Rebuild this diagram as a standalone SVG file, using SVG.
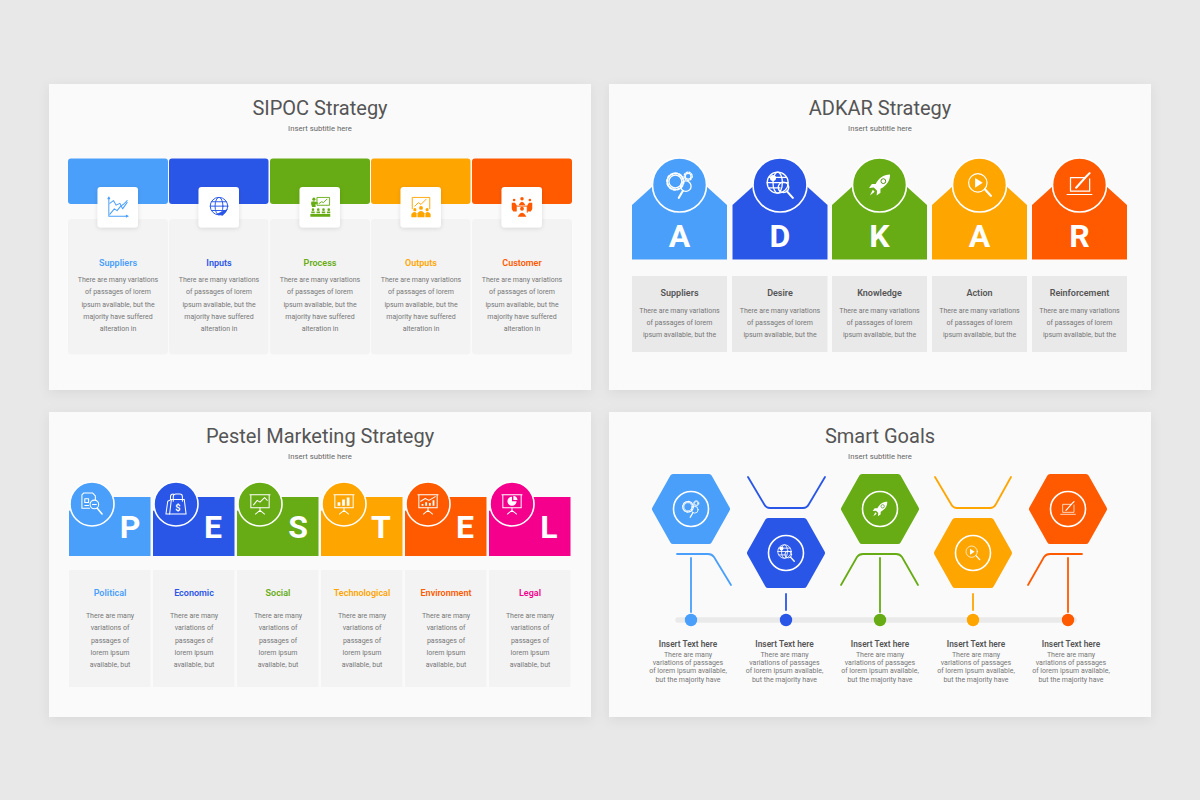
<svg xmlns="http://www.w3.org/2000/svg" width="1200" height="800" viewBox="0 0 1200 800">
<style>
text{font-family:Roboto,"Liberation Sans",sans-serif;text-anchor:middle}
.title{font-size:20px;fill:#555}
.sub{font-size:7.700px;fill:#666}
.lab{font-size:9px;font-weight:600}
.slab{font-size:8.300px;font-weight:600;fill:#555}
.body{font-size:7px;fill:#777}
.sbody{font-size:7px;fill:#777}
.big{font-size:32px;font-weight:700;fill:#fff}
.dk{fill:#555}
.f1{fill:#4a9ffa;stroke:#4a9ffa;color:#4a9ffa}
.f2{fill:#2a56e8;stroke:#2a56e8;color:#2a56e8}
.f3{fill:#67ac14;stroke:#67ac14;color:#67ac14}
.f4{fill:#ffa500;stroke:#ffa500;color:#ffa500}
.f5{fill:#ff5a00;stroke:#ff5a00;color:#ff5a00}
.f6{fill:#f5008c;stroke:#f5008c;color:#f5008c}
.t1{fill:#4a9ffa}.t2{fill:#2a56e8}.t3{fill:#67ac14}.t4{fill:#ffa500}.t5{fill:#ff5a00}.t6{fill:#f5008c}
.ns{stroke:none}
.ring{stroke:#fff;stroke-width:1.6}
.gray{fill:#f3f3f3}
.gray2{fill:#e9e9e9}
.w{color:#fff}
.hex{stroke-width:6;stroke-linejoin:round}
.hr{fill:none;stroke:#fff;stroke-width:1.6}
.lnk{fill:none;stroke-width:1.800;stroke-linecap:round;stroke-linejoin:round}
.s1{stroke:#4a9ffa}.s2{stroke:#2a56e8}.s3{stroke:#67ac14}.s4{stroke:#ffa500}.s5{stroke:#ff5a00}
.ic{fill:none;stroke:currentColor;stroke-width:1.1;stroke-linecap:round;stroke-linejoin:round}
.fc{fill:currentColor;stroke:none}
</style>
<defs>
<filter id="sh" x="-10%" y="-10%" width="120%" height="125%"><feDropShadow dx="0" dy="3" stdDeviation="6" flood-color="#000" flood-opacity=".07"/></filter>
<filter id="sh2" x="-30%" y="-30%" width="160%" height="160%"><feDropShadow dx="0" dy="1" stdDeviation="2" flood-color="#000" flood-opacity=".12"/></filter>
<path id="pent" d="M-47.5 205L0 162L47.5 205V259.5H-47.5Z"/>
<path id="pes" d="M0 511L23 497H81.5V556H0Z"/>
<path id="hexa" d="M-36 0L-18-32H18L36 0L18 32H-18Z"/>
<symbol id="i-chart" viewBox="0 0 24 24"><g class="ic"><path d="M2 1V22H23M1 3L2 1L3 3M21 21L23 22L21 23"/><path d="M3 8L7 5L10 10L14 8L17 14L22 7"/><path d="M3 20L8 14L11 16L15 11L18 9L22 5"/></g></symbol>
<symbol id="i-globe" viewBox="0 0 24 24"><g class="ic" stroke-width="1.300"><circle cx="12" cy="11" r="10"/><ellipse cx="12" cy="11" rx="4.500" ry="10"/><path d="M2 11H22M3.500 6H20.500M3.500 16H20.500"/></g><path class="fc" d="M9 20L18 16L22 14L20 18L16 22Z"/></symbol>
<symbol id="i-train" viewBox="0 0 24 24"><g class="ic" stroke-width=".9"><rect x="9" y="1" width="14" height="9"/><path d="M11 8L14 6L16 7L20 3"/></g><g class="fc"><circle cx="5" cy="3" r="1.800"/><path d="M2 6Q5 5 7 6L10 7L10 8L7 8.500V12H3Q1 9 2 6Z"/><circle cx="4" cy="15" r="1.500"/><circle cx="10" cy="15" r="1.500"/><circle cx="16" cy="15" r="1.500"/><circle cx="22" cy="15" r="1.500"/><path d="M2 17H6V19H2ZM8 17H12V19H8ZM14 17H18V19H14ZM20 17H24V19H20ZM1 20H24V23H1Z"/></g></symbol>
<symbol id="i-audience" viewBox="0 0 24 24"><g class="ic" stroke-width=".9"><path d="M2 14V1H22V14"/><path d="M5 11L9 7L12 9L18 3"/></g><g class="fc"><circle cx="12" cy="13" r="2.200"/><path d="M8 24V19Q12 14 16 19V24Z"/><circle cx="5" cy="15" r="1.800"/><path d="M1 24V20Q4 16 7 19V24Z"/><circle cx="19" cy="15" r="1.800"/><path d="M17 19Q20 16 23 20V24H17Z"/></g></symbol>
<symbol id="i-meet" viewBox="0 0 24 24"><g class="fc"><circle cx="12" cy="2.500" r="2"/><path d="M8.500 9Q12 3 15.500 9V10H8.500Z"/><circle cx="3" cy="4" r="1.500"/><circle cx="21" cy="4" r="1.500"/><path d="M0 7H4L6 10V17H2L0 14ZM24 7H20L18 10V17H22L24 14Z"/><circle cx="12" cy="14" r="2.200"/><path d="M7 23Q12 14 17 23Z"/></g><path class="ic" d="M6 11H18V18"/></symbol>
<symbol id="i-gears" viewBox="0 0 24 24"><g class="ic" stroke-width="1.300"><circle cx="8" cy="9" r="5.500"/><circle cx="8" cy="9" r="7" stroke-dasharray="2 1.600" stroke-width="1.800"/><circle cx="19" cy="4.500" r="2.500"/><circle cx="19" cy="4.500" r="3.500" stroke-dasharray="1.200 1.200"/><circle cx="17" cy="13" r="4.500"/><path d="M14.500 17L11 23" stroke-width="1.800"/></g></symbol>
<symbol id="i-gg" viewBox="0 0 24 24"><g class="ic" stroke-width=".9"><circle cx="10" cy="10" r="9"/><ellipse cx="10" cy="10" rx="4" ry="9"/><path d="M1 10H19M2.500 5.500H17.500M2.500 14.500H12"/><circle cx="15" cy="14" r="4.500" stroke-width="1.200"/><path d="M18 17.500L23 23" stroke-width="1.800"/></g><circle class="fc" cx="6" cy="6" r="2.600"/></symbol>
<symbol id="i-rocket" viewBox="0 0 24 24"><path class="fc" d="M23 1C16 1 11 5 8 11L4 11L1 15L6 14.500L9.500 18L9 23L13 20L13 16C19 13 23 8 23 1Z"/><circle cx="16" cy="8" r="2.500" fill="none" stroke="#4c8a0c" stroke-width="1"/><path class="fc" d="M5 17L7 19L2 23Z"/></symbol>
<symbol id="i-play" viewBox="0 0 24 24"><g class="ic" stroke-width="1.500"><circle cx="10" cy="10" r="8.500"/><path d="M16.500 16L22 22" stroke-width="2"/></g><path class="fc" d="M7.500 5.500L14.500 10L7.500 14.500Z"/></symbol>
<symbol id="i-laptop" viewBox="0 0 24 24"><g class="ic" stroke-width="1.200"><path d="M21 6V17H4V5H16"/><path d="M1 20H23"/><path d="M9 14L18 4L21 1" stroke-width="1.800"/></g></symbol>
<symbol id="i-doc" viewBox="0 0 24 24"><g class="ic" stroke-width="1"><path d="M2 17V3L4 1H13L16 4V8M2 17H10"/><path d="M5 7H9V11H5ZM5 14H9"/><circle cx="15" cy="13" r="4.500"/><path d="M13 13H17"/><path d="M18 17L23 23" stroke-width="1.600"/></g></symbol>
<symbol id="i-bag" viewBox="0 0 24 24"><g class="ic" stroke-width="1"><path d="M7 7H21L23 23H5Z"/><path d="M7 7L3 9L1 23H5"/><path d="M9 9V4Q9 1 12 1H16Q19 1 19 4V9M6 7V4Q6 1 9 1"/></g><text x="14" y="20" style="font-size:10px;font-weight:700;fill:currentColor">$</text></symbol>
<symbol id="i-board" viewBox="0 0 24 24"><g class="ic" stroke-width="1"><path d="M1 2H23M2 2V16H22V2"/><path d="M12 16V19M12 19L7 23M12 19L17 23"/><path d="M5 13L9 8L12 10L17 5L20 8"/></g></symbol>
<symbol id="i-bars" viewBox="0 0 24 24"><g class="ic" stroke-width="1"><path d="M1 2H23M2 2V16H22V2"/><path d="M12 16V19M12 19L7 23M12 19L17 23"/></g><path class="fc" d="M5 10H8V14H5ZM10 7H13V14H10ZM15 5H18V14H15Z"/></symbol>
<symbol id="i-mix" viewBox="0 0 24 24"><g class="ic" stroke-width="1"><path d="M1 2H23M2 2V16H22V2"/><path d="M12 16V19M12 19L7 23M12 19L17 23"/><path d="M4 9L9 6L13 8L20 4"/></g><path class="fc" d="M5 12H7V14H5ZM9 10H11V14H9ZM13 11H15V14H13ZM17 8H19V14H17Z"/></symbol>
<symbol id="i-pie" viewBox="0 0 24 24"><g class="ic" stroke-width="1"><path d="M1 2H23M2 2V16H22V2"/><path d="M12 16V19M12 19L7 23M12 19L17 23"/></g><path class="fc" d="M12 4A5 5 0 1 0 17 9H12ZM13.500 3V7.500H18A5 5 0 0 0 13.500 3Z"/></symbol>
</defs>
<rect width="1200" height="800" fill="#e9e8e9"/>
<g id="panels" fill="#fafafa" filter="url(#sh)">
<rect x="49" y="84" width="542" height="306"/>
<rect x="609" y="84" width="542" height="306"/>
<rect x="49" y="412" width="542" height="305"/>
<rect x="609" y="412" width="542" height="305"/>
</g>

<g id="sipoc">
<text class="title" x="320" y="115">SIPOC Strategy</text><text class="sub" x="320" y="131">Insert subtitle here</text>
<g id="sipoc-suppliers"><rect class="gray" x="68" y="219" width="100" height="135.500" rx="4"/><rect class="t1" x="68" y="158.500" width="100" height="45.500" rx="3"/><rect x="97.500" y="187" width="40.500" height="40.500" rx="3" fill="#fff" filter="url(#sh2)"/><use href="#i-chart" x="107" y="196" width="22" height="22" style="color:#4a9ffa"/><text class="lab t1" x="118" y="266">Suppliers</text><text class="body" x="118" y="282">There are many variations</text><text class="body" x="118" y="294.300">of passages of lorem</text><text class="body" x="118" y="306.500">ipsum available, but the</text><text class="body" x="118" y="318.800">majority have suffered</text><text class="body" x="118" y="331">alteration in</text></g>
<g id="sipoc-inputs"><rect class="gray" x="169" y="219" width="99.500" height="135.500" rx="4"/><rect class="t2" x="169" y="158.500" width="99.500" height="45.500" rx="3"/><rect x="198.500" y="187" width="40.500" height="40.500" rx="3" fill="#fff" filter="url(#sh2)"/><use href="#i-globe" x="208.500" y="196.500" width="21" height="21" style="color:#2a56e8"/><text class="lab t2" x="219" y="266">Inputs</text><text class="body" x="219" y="282">There are many variations</text><text class="body" x="219" y="294.300">of passages of lorem</text><text class="body" x="219" y="306.500">ipsum available, but the</text><text class="body" x="219" y="318.800">majority have suffered</text><text class="body" x="219" y="331">alteration in</text></g>
<g id="sipoc-process"><rect class="gray" x="270" y="219" width="100" height="135.500" rx="4"/><rect class="t3" x="270" y="158.500" width="100" height="45.500" rx="3"/><rect x="299.500" y="187" width="40.500" height="40.500" rx="3" fill="#fff" filter="url(#sh2)"/><use href="#i-train" x="309.500" y="196.500" width="21" height="21" style="color:#67ac14"/><text class="lab t3" x="320" y="266">Process</text><text class="body" x="320" y="282">There are many variations</text><text class="body" x="320" y="294.300">of passages of lorem</text><text class="body" x="320" y="306.500">ipsum available, but the</text><text class="body" x="320" y="318.800">majority have suffered</text><text class="body" x="320" y="331">alteration in</text></g>
<g id="sipoc-outputs"><rect class="gray" x="371" y="219" width="99.500" height="135.500" rx="4"/><rect class="t4" x="371" y="158.500" width="99.500" height="45.500" rx="3"/><rect x="400.500" y="187" width="40.500" height="40.500" rx="3" fill="#fff" filter="url(#sh2)"/><use href="#i-audience" x="410.500" y="196.500" width="21" height="21" style="color:#ffa500"/><text class="lab t4" x="421" y="266">Outputs</text><text class="body" x="421" y="282">There are many variations</text><text class="body" x="421" y="294.300">of passages of lorem</text><text class="body" x="421" y="306.500">ipsum available, but the</text><text class="body" x="421" y="318.800">majority have suffered</text><text class="body" x="421" y="331">alteration in</text></g>
<g id="sipoc-customer"><rect class="gray" x="472" y="219" width="100" height="135.500" rx="4"/><rect class="t5" x="472" y="158.500" width="100" height="45.500" rx="3"/><rect x="501.500" y="187" width="40.500" height="40.500" rx="3" fill="#fff" filter="url(#sh2)"/><use href="#i-meet" x="511.500" y="196.500" width="21" height="21" style="color:#ff5a00"/><text class="lab t5" x="522" y="266">Customer</text><text class="body" x="522" y="282">There are many variations</text><text class="body" x="522" y="294.300">of passages of lorem</text><text class="body" x="522" y="306.500">ipsum available, but the</text><text class="body" x="522" y="318.800">majority have suffered</text><text class="body" x="522" y="331">alteration in</text></g>
</g>

<g id="adkar">
<text class="title" x="880" y="115">ADKAR Strategy</text><text class="sub" x="880" y="131">Insert subtitle here</text>
<g id="adkar-a1"><use href="#pent" x="679.500" class="f1 ns"/><circle class="t1 ring" cx="679.500" cy="185" r="27"/><use href="#i-gears" x="666" y="171" width="28" height="28" class="w"/><text class="big" x="679.500" y="246.700">A</text><rect class="gray2" x="632" y="276" width="95" height="76"/><text class="lab dk" x="679.500" y="296">Suppliers</text><text class="body" x="679.500" y="312.500">There are many variations</text><text class="body" x="679.500" y="325">of passages of lorem</text><text class="body" x="679.500" y="337">ipsum available, but the</text></g>
<g id="adkar-d"><use href="#pent" x="780" class="f2 ns"/><circle class="t2 ring" cx="780" cy="185" r="27"/><use href="#i-gg" x="766" y="171" width="28" height="28" class="w"/><text class="big" x="780" y="246.700">D</text><rect class="gray2" x="732" y="276" width="95.500" height="76"/><text class="lab dk" x="780" y="296">Desire</text><text class="body" x="780" y="312.500">There are many variations</text><text class="body" x="780" y="325">of passages of lorem</text><text class="body" x="780" y="337">ipsum available, but the</text></g>
<g id="adkar-k"><use href="#pent" x="879.500" class="f3 ns"/><circle class="t3 ring" cx="879.500" cy="185" r="27"/><use href="#i-rocket" x="868" y="173" width="23" height="24" class="w"/><text class="big" x="879.500" y="246.700">K</text><rect class="gray2" x="832" y="276" width="95" height="76"/><text class="lab dk" x="879.500" y="296">Knowledge</text><text class="body" x="879.500" y="312.500">There are many variations</text><text class="body" x="879.500" y="325">of passages of lorem</text><text class="body" x="879.500" y="337">ipsum available, but the</text></g>
<g id="adkar-a2"><use href="#pent" x="979.500" class="f4 ns"/><circle class="t4 ring" cx="979.500" cy="185" r="27"/><use href="#i-play" x="967" y="172" width="26" height="26" class="w"/><text class="big" x="979.500" y="246.700">A</text><rect class="gray2" x="932" y="276" width="95" height="76"/><text class="lab dk" x="979.500" y="296">Action</text><text class="body" x="979.500" y="312.500">There are many variations</text><text class="body" x="979.500" y="325">of passages of lorem</text><text class="body" x="979.500" y="337">ipsum available, but the</text></g>
<g id="adkar-r"><use href="#pent" x="1079.500" class="f5 ns"/><circle class="t5 ring" cx="1079.500" cy="185" r="27"/><use href="#i-laptop" x="1066" y="172" width="27" height="27" class="w"/><text class="big" x="1079.500" y="246.700">R</text><rect class="gray2" x="1032" y="276" width="95" height="76"/><text class="lab dk" x="1079.500" y="296">Reinforcement</text><text class="body" x="1079.500" y="312.500">There are many variations</text><text class="body" x="1079.500" y="325">of passages of lorem</text><text class="body" x="1079.500" y="337">ipsum available, but the</text></g>
</g>

<g id="pestel">
<text class="title" x="320" y="443">Pestel Marketing Strategy</text><text class="sub" x="320" y="459">Insert subtitle here</text>
<g id="pestel-p"><use href="#pes" x="69" class="f1 ns"/><circle class="t1 ring" cx="92" cy="504" r="22"/><use href="#i-doc" x="80" y="492" width="23" height="23" class="w"/><text class="big" x="130" y="538">P</text><rect class="gray" x="69" y="570" width="81.500" height="117"/><text class="lab t1" x="110" y="596">Political</text><text class="body" x="110" y="618">There are many</text><text class="body" x="110" y="630.300">variations of</text><text class="body" x="110" y="642.500">passages of</text><text class="body" x="110" y="654.800">lorem ipsum</text><text class="body" x="110" y="667">available, but</text></g>
<g id="pestel-e1"><use href="#pes" x="153" class="f2 ns"/><circle class="t2 ring" cx="176" cy="504" r="22"/><use href="#i-bag" x="165" y="493" width="22" height="22" class="w"/><text class="big" x="213" y="538">E</text><rect class="gray" x="153" y="570" width="81.500" height="117"/><text class="lab t2" x="194" y="596">Economic</text><text class="body" x="194" y="618">There are many</text><text class="body" x="194" y="630.300">variations of</text><text class="body" x="194" y="642.500">passages of</text><text class="body" x="194" y="654.800">lorem ipsum</text><text class="body" x="194" y="667">available, but</text></g>
<g id="pestel-s"><use href="#pes" x="237" class="f3 ns"/><circle class="t3 ring" cx="260" cy="504" r="22"/><use href="#i-board" x="249" y="493" width="22" height="22" class="w"/><text class="big" x="298" y="538">S</text><rect class="gray" x="237" y="570" width="81.500" height="117"/><text class="lab t3" x="278" y="596">Social</text><text class="body" x="278" y="618">There are many</text><text class="body" x="278" y="630.300">variations of</text><text class="body" x="278" y="642.500">passages of</text><text class="body" x="278" y="654.800">lorem ipsum</text><text class="body" x="278" y="667">available, but</text></g>
<g id="pestel-t"><use href="#pes" x="321" class="f4 ns"/><circle class="t4 ring" cx="344" cy="504" r="22"/><use href="#i-bars" x="333" y="493" width="22" height="22" class="w"/><text class="big" x="381" y="538">T</text><rect class="gray" x="321" y="570" width="81.500" height="117"/><text class="lab t4" x="362" y="596">Technological</text><text class="body" x="362" y="618">There are many</text><text class="body" x="362" y="630.300">variations of</text><text class="body" x="362" y="642.500">passages of</text><text class="body" x="362" y="654.800">lorem ipsum</text><text class="body" x="362" y="667">available, but</text></g>
<g id="pestel-e2"><use href="#pes" x="405" class="f5 ns"/><circle class="t5 ring" cx="428" cy="504" r="22"/><use href="#i-mix" x="417" y="493" width="22" height="22" class="w"/><text class="big" x="465" y="538">E</text><rect class="gray" x="405" y="570" width="81.500" height="117"/><text class="lab t5" x="446" y="596">Environment</text><text class="body" x="446" y="618">There are many</text><text class="body" x="446" y="630.300">variations of</text><text class="body" x="446" y="642.500">passages of</text><text class="body" x="446" y="654.800">lorem ipsum</text><text class="body" x="446" y="667">available, but</text></g>
<g id="pestel-l"><use href="#pes" x="489" class="f6 ns"/><circle class="t6 ring" cx="512" cy="504" r="22"/><use href="#i-pie" x="501" y="493" width="22" height="22" class="w"/><text class="big" x="549" y="538">L</text><rect class="gray" x="489" y="570" width="81.500" height="117"/><text class="lab t6" x="530" y="596">Legal</text><text class="body" x="530" y="618">There are many</text><text class="body" x="530" y="630.300">variations of</text><text class="body" x="530" y="642.500">passages of</text><text class="body" x="530" y="654.800">lorem ipsum</text><text class="body" x="530" y="667">available, but</text></g>
</g>

<g id="smart">
<text class="title" x="880" y="443">Smart Goals</text><text class="sub" x="880" y="459">Insert subtitle here</text>
<g id="connectors">
<path d="M678 620H1074" fill="none" stroke="#eaeaea" stroke-width="5.500" stroke-linecap="round"/>
<path class="lnk s1" d="M677 554H708Q712 554 714 557L731 585M691 558V612"/>
<path class="lnk s2" d="M748 477L764 504Q766 508 770 508H803Q807 508 809 504L825 477M786 594V610"/>
<path class="lnk s3" d="M841 585L857 557Q859 554 863 554H896Q900 554 902 557L918 585M880 558V612"/>
<path class="lnk s4" d="M935 477L951 504Q953 508 957 508H990Q994 508 996 504L1011 477M973 594V610"/>
<path class="lnk s5" d="M1028 585L1044 557Q1046 554 1050 554H1082M1068 558V612"/>
</g>
<g id="smart-1"><use href="#hexa" class="f1 hex" transform="translate(691 509)"/><circle class="hr" cx="691" cy="509" r="17.500"/><use href="#i-gears" x="682" y="500" width="18" height="18" class="w"/><circle class="t1" cx="691" cy="620" r="6.200"/><text class="slab" x="688" y="647">Insert Text here</text><text class="sbody" x="688" y="657">There are many</text><text class="sbody" x="688" y="665">variations of passages</text><text class="sbody" x="688" y="673">of lorem ipsum available,</text><text class="sbody" x="688" y="681.500">but the majority have</text></g>
<g id="smart-2"><use href="#hexa" class="f2 hex" transform="translate(786 553)"/><circle class="hr" cx="786" cy="553" r="17.500"/><use href="#i-gg" x="777" y="544" width="18" height="18" class="w"/><circle class="t2" cx="786" cy="620" r="6.200"/><text class="slab" x="784.500" y="647">Insert Text here</text><text class="sbody" x="784.500" y="657">There are many</text><text class="sbody" x="784.500" y="665">variations of passages</text><text class="sbody" x="784.500" y="673">of lorem ipsum available,</text><text class="sbody" x="784.500" y="681.500">but the majority have</text></g>
<g id="smart-3"><use href="#hexa" class="f3 hex" transform="translate(880 509)"/><circle class="hr" cx="880" cy="509" r="17.500"/><use href="#i-rocket" x="872" y="501" width="16" height="16" class="w"/><circle class="t3" cx="880" cy="620" r="6.200"/><text class="slab" x="880" y="647">Insert Text here</text><text class="sbody" x="880" y="657">There are many</text><text class="sbody" x="880" y="665">variations of passages</text><text class="sbody" x="880" y="673">of lorem ipsum available,</text><text class="sbody" x="880" y="681.500">but the majority have</text></g>
<g id="smart-4"><use href="#hexa" class="f4 hex" transform="translate(973 553)"/><circle class="hr" cx="973" cy="553" r="17.500"/><use href="#i-play" x="965" y="545" width="16" height="16" class="w"/><circle class="t4" cx="973" cy="620" r="6.200"/><text class="slab" x="976" y="647">Insert Text here</text><text class="sbody" x="976" y="657">There are many</text><text class="sbody" x="976" y="665">variations of passages</text><text class="sbody" x="976" y="673">of lorem ipsum available,</text><text class="sbody" x="976" y="681.500">but the majority have</text></g>
<g id="smart-5"><use href="#hexa" class="f5 hex" transform="translate(1068 509)"/><circle class="hr" cx="1068" cy="509" r="17.500"/><use href="#i-laptop" x="1060" y="501" width="16" height="16" class="w"/><circle class="t5" cx="1068" cy="620" r="6.200"/><text class="slab" x="1071" y="647">Insert Text here</text><text class="sbody" x="1071" y="657">There are many</text><text class="sbody" x="1071" y="665">variations of passages</text><text class="sbody" x="1071" y="673">of lorem ipsum available,</text><text class="sbody" x="1071" y="681.500">but the majority have</text></g>
</g>
</svg>
